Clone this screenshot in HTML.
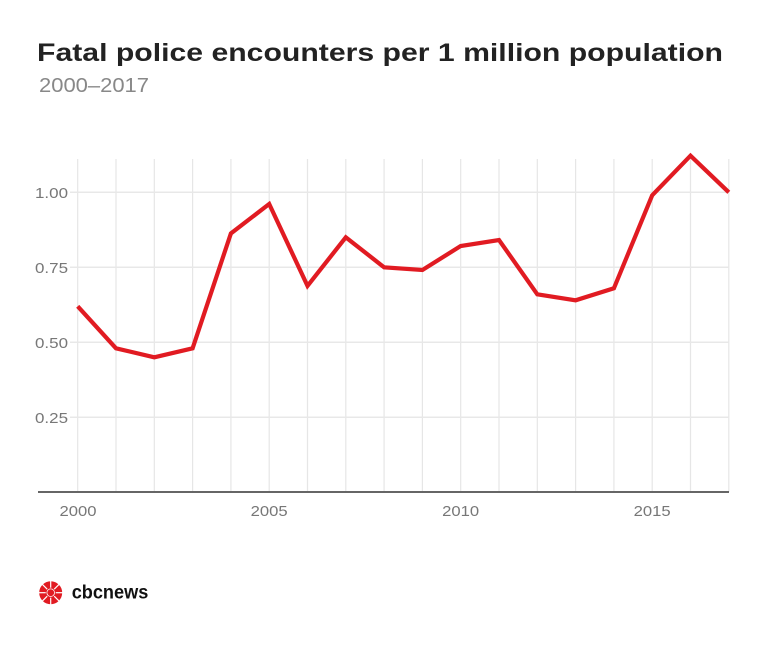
<!DOCTYPE html>
<html>
<head>
<meta charset="utf-8">
<style>
html,body{margin:0;padding:0;background:#fff;}
svg{display:block;}
text{font-family:"Liberation Sans",sans-serif;}
</style>
</head>
<body>
<svg width="768" height="648" viewBox="0 0 768 648" xmlns="http://www.w3.org/2000/svg">
<rect width="768" height="648" fill="#fff"/>
<text x="37" y="61" font-size="25" font-weight="bold" fill="#222" textLength="686" lengthAdjust="spacingAndGlyphs">Fatal police encounters per 1 million population</text>
<text x="39" y="92" font-size="20" fill="#888" textLength="110" lengthAdjust="spacingAndGlyphs">2000–2017</text>

<g stroke="#e6e6e6" stroke-width="1.2">
<line x1="77.7" y1="159" x2="77.7" y2="492"/>
<line x1="116.0" y1="159" x2="116.0" y2="492"/>
<line x1="154.3" y1="159" x2="154.3" y2="492"/>
<line x1="192.6" y1="159" x2="192.6" y2="492"/>
<line x1="230.9" y1="159" x2="230.9" y2="492"/>
<line x1="269.2" y1="159" x2="269.2" y2="492"/>
<line x1="307.5" y1="159" x2="307.5" y2="492"/>
<line x1="345.8" y1="159" x2="345.8" y2="492"/>
<line x1="384.1" y1="159" x2="384.1" y2="492"/>
<line x1="422.4" y1="159" x2="422.4" y2="492"/>
<line x1="460.7" y1="159" x2="460.7" y2="492"/>
<line x1="499.0" y1="159" x2="499.0" y2="492"/>
<line x1="537.3" y1="159" x2="537.3" y2="492"/>
<line x1="575.6" y1="159" x2="575.6" y2="492"/>
<line x1="613.9" y1="159" x2="613.9" y2="492"/>
<line x1="652.2" y1="159" x2="652.2" y2="492"/>
<line x1="690.5" y1="159" x2="690.5" y2="492"/>
<line x1="728.8" y1="159" x2="728.8" y2="492"/>
</g>
<g stroke="#e8e8e8" stroke-width="1.5">
<line x1="70" y1="192.3" x2="728.8" y2="192.3"/>
<line x1="70" y1="267.3" x2="728.8" y2="267.3"/>
<line x1="70" y1="342.3" x2="728.8" y2="342.3"/>
<line x1="70" y1="417.3" x2="728.8" y2="417.3"/>
</g>
<line x1="38" y1="492" x2="729" y2="492" stroke="#666" stroke-width="2"/>

<g font-size="15" fill="#777">
<text x="35" y="198" textLength="33" lengthAdjust="spacingAndGlyphs">1.00</text>
<text x="35" y="273" textLength="33" lengthAdjust="spacingAndGlyphs">0.75</text>
<text x="35" y="348" textLength="33" lengthAdjust="spacingAndGlyphs">0.50</text>
<text x="35" y="423" textLength="33" lengthAdjust="spacingAndGlyphs">0.25</text>
</g>
<g font-size="15" fill="#777">
<text x="59.5" y="516" textLength="37" lengthAdjust="spacingAndGlyphs">2000</text>
<text x="250.7" y="516" textLength="37" lengthAdjust="spacingAndGlyphs">2005</text>
<text x="442.2" y="516" textLength="37" lengthAdjust="spacingAndGlyphs">2010</text>
<text x="633.7" y="516" textLength="37" lengthAdjust="spacingAndGlyphs">2015</text>
</g>

<polyline fill="none" stroke="#e11b22" stroke-width="4.2" stroke-linejoin="miter" stroke-miterlimit="4"
points="77.7,306.3 116.0,348.3 154.3,357.3 192.6,348.3 230.9,233.4 269.2,204.0 307.5,285.9 345.8,237.3 384.1,267.3 422.4,270.0 460.7,246.0 499.0,240.0 537.3,294.3 575.6,300.3 613.9,288.3 652.2,195.3 690.5,155.7 728.8,192.3"/>

<g transform="translate(50.7,592.7)">
<circle r="11.5" fill="#e11b22"/>
<circle r="4.2" fill="#fff"/>
<circle r="3.4" fill="#e11b22"/>
<g stroke="#fff" stroke-width="1.2">
<line x1="-12" y1="0" x2="-5" y2="0"/>
<line x1="5" y1="0" x2="12" y2="0"/>
<line x1="0" y1="-12" x2="0" y2="-5"/>
<line x1="0" y1="5" x2="0" y2="12"/>
<line x1="-9" y1="-9" x2="-3.5" y2="-3.5"/>
<line x1="9" y1="-9" x2="3.5" y2="-3.5"/>
<line x1="-9" y1="9" x2="-3.5" y2="3.5"/>
<line x1="9" y1="9" x2="3.5" y2="3.5"/>
</g>
</g>
<text x="71.7" y="598.5" font-size="19" font-weight="bold" fill="#111" textLength="76.6" lengthAdjust="spacingAndGlyphs">cbcnews</text>
</svg>
</body>
</html>
